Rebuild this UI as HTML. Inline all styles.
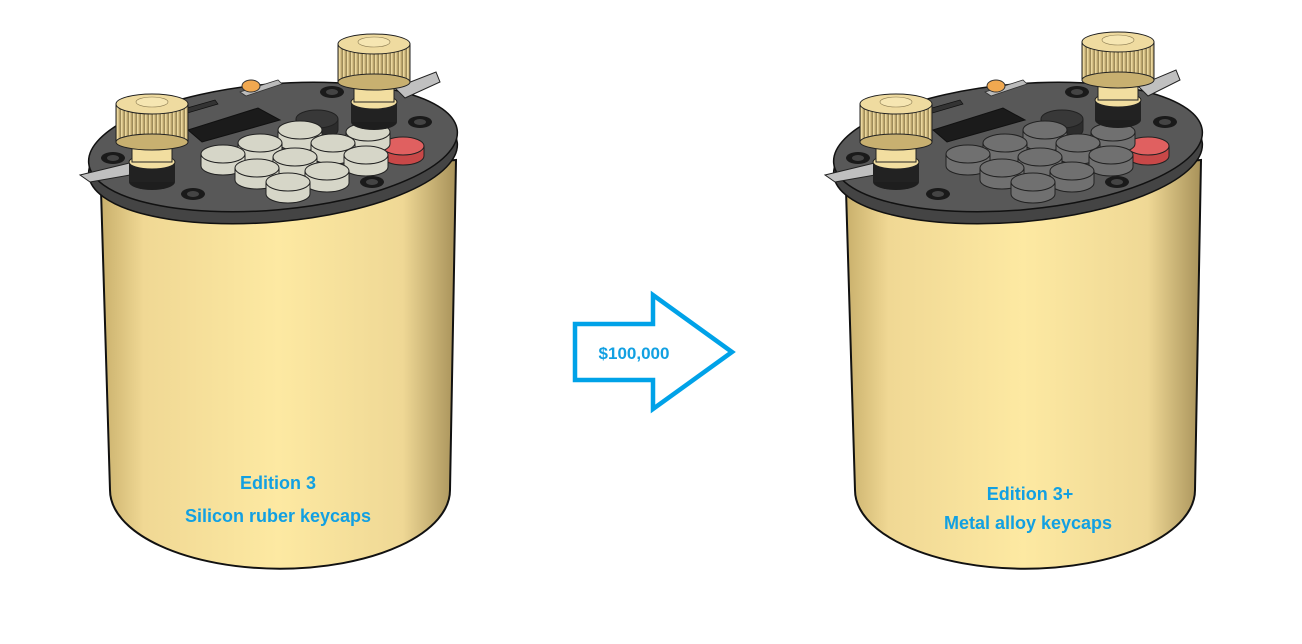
<!DOCTYPE html>
<html><head><meta charset="utf-8"><style>
html,body{margin:0;padding:0;background:#fff;}
svg{display:block;}
text{font-family:"Liberation Sans",sans-serif;font-weight:bold;fill:#12a0e2;}
</style></head><body>
<svg width="1302" height="644" viewBox="0 0 1302 644" xmlns="http://www.w3.org/2000/svg">
<defs>
<linearGradient id="body" x1="0" x2="1" y1="0" y2="0">
<stop offset="0" stop-color="#c9b06c"/><stop offset="0.12" stop-color="#f0d894"/>
<stop offset="0.5" stop-color="#fde9a2"/><stop offset="0.85" stop-color="#efd895"/>
<stop offset="1" stop-color="#a8925a"/></linearGradient>
<linearGradient id="knurl" x1="0" x2="1"><stop offset="0" stop-color="#bfa868"/><stop offset="0.4" stop-color="#f3e0a6"/><stop offset="1" stop-color="#a8915a"/></linearGradient>
<pattern id="lines" width="4" height="10" patternUnits="userSpaceOnUse"><rect width="4" height="10" fill="url(#knurl)"/><line x1="0" y1="0" x2="0" y2="10" stroke="#4a3e20" stroke-width="0.8"/></pattern>
<g id="knob">
<ellipse cx="0" cy="78" rx="23" ry="8" fill="#1e1e1e"/>
<rect x="-23" y="58" width="46" height="20" fill="#222"/>
<ellipse cx="0" cy="58" rx="23" ry="7" fill="#f2dea0" stroke="#222"/>
<rect x="-20" y="38" width="40" height="20" fill="#f2dea0" stroke="#222" stroke-width="1"/>
<rect x="-36" y="0" width="72" height="38" fill="url(#lines)" stroke="#222" stroke-width="1"/>
<ellipse cx="0" cy="38" rx="36" ry="8" fill="#c8b070" stroke="#222" stroke-width="1"/>
<ellipse cx="0" cy="0" rx="36" ry="10" fill="#efdba0" stroke="#222" stroke-width="1"/>
<ellipse cx="0" cy="-2" rx="16" ry="5" fill="#f6e6b2" stroke="#8a7a50" stroke-width="0.6"/>
</g>
<g id="screw"><ellipse rx="12" ry="6" fill="#1a1a1a"/><ellipse rx="6" ry="3" fill="#444"/></g>
<g id="dev">
<path d="M101 190 L110 490 A162 75 0 0 0 450 490 L456 160 Z" fill="url(#body)" stroke="#111" stroke-width="2"/>
<ellipse cx="273" cy="159" rx="185" ry="63" transform="rotate(-5 273 159)" fill="#444" stroke="#111" stroke-width="1.5"/>
<ellipse cx="273" cy="147" rx="185" ry="63" transform="rotate(-5 273 147)" fill="#585858" stroke="#111" stroke-width="1.5"/>
<path d="M188 130 L258 108 L280 120 L202 142 Z" fill="#1b1b1b" stroke="#111"/>
<path d="M180 110 L215 100 L218 104 L184 114 Z" fill="#333" stroke="#111" stroke-width="0.7"/>
<path d="M240 92 L278 80 L282 84 L246 96 Z" fill="#bbb" stroke="#333" stroke-width="0.8"/>
<ellipse cx="251" cy="86" rx="9" ry="6" fill="#f0a850" stroke="#333"/>
<use href="#screw" x="113" y="158"/><use href="#screw" x="193" y="194"/>
<use href="#screw" x="372" y="182"/><use href="#screw" x="420" y="122"/><use href="#screw" x="332" y="92"/>
<path d="M317 119 h-21 v11 a21 9 0 0 0 42 0 v-11 Z" fill="#2c2c2c" stroke="#222"/><ellipse cx="317" cy="119" rx="21" ry="9" fill="#383838" stroke="#222"/>
<path d="M403 146 h-21 v10 a21 9 0 0 0 42 0 v-10 Z" fill="#c84848" stroke="#222"/><ellipse cx="403" cy="146" rx="21" ry="9" fill="#e06060" stroke="#222"/>
</g>
<g id="keys" stroke="#222" stroke-width="1">
<path d="M300 130 h-22 v12 a22 9 0 0 0 44 0 v-12 Z"/><ellipse cx="300" cy="130" rx="22" ry="9" class="t"/>
<path d="M368 132 h-22 v12 a22 9 0 0 0 44 0 v-12 Z"/><ellipse cx="368" cy="132" rx="22" ry="9"/>
<path d="M260 143 h-22 v12 a22 9 0 0 0 44 0 v-12 Z"/><ellipse cx="260" cy="143" rx="22" ry="9"/>
<path d="M333 143 h-22 v12 a22 9 0 0 0 44 0 v-12 Z"/><ellipse cx="333" cy="143" rx="22" ry="9"/>
<path d="M223 154 h-22 v12 a22 9 0 0 0 44 0 v-12 Z"/><ellipse cx="223" cy="154" rx="22" ry="9"/>
<path d="M295 157 h-22 v12 a22 9 0 0 0 44 0 v-12 Z"/><ellipse cx="295" cy="157" rx="22" ry="9"/>
<path d="M366 155 h-22 v12 a22 9 0 0 0 44 0 v-12 Z"/><ellipse cx="366" cy="155" rx="22" ry="9"/>
<path d="M257 168 h-22 v12 a22 9 0 0 0 44 0 v-12 Z"/><ellipse cx="257" cy="168" rx="22" ry="9"/>
<path d="M327 171 h-22 v12 a22 9 0 0 0 44 0 v-12 Z"/><ellipse cx="327" cy="171" rx="22" ry="9"/>
<path d="M288 182 h-22 v12 a22 9 0 0 0 44 0 v-12 Z"/><ellipse cx="288" cy="182" rx="22" ry="9"/>
</g>
</defs>

<path d="M575 324 H653 V295 L732 352 L653 409 V380 H575 Z" fill="none" stroke="#00a2e8" stroke-width="4.5"/>
<text x="634" y="359" font-size="17" text-anchor="middle">$100,000</text>

<use href="#dev"/>
<use href="#dev" x="745"/>
<use href="#keys" fill="#d6d6c8"/>
<use href="#keys" x="745" fill="#707070"/>

<path d="M80 175 L150 158 L170 168 L90 182 Z" fill="#c0c0c0" stroke="#222"/>
<use href="#knob" x="152" y="104"/>
<path d="M395 88 L436 72 L440 82 L405 98 Z" fill="#c0c0c0" stroke="#222"/>
<use href="#knob" x="374" y="44"/>
<path d="M825 175 L895 158 L915 168 L835 182 Z" fill="#c0c0c0" stroke="#222"/>
<use href="#knob" x="896" y="104"/>
<path d="M1138 86 L1176 70 L1180 80 L1148 96 Z" fill="#c0c0c0" stroke="#222"/>
<use href="#knob" x="1118" y="42"/>

<text x="278" y="489" font-size="18" text-anchor="middle">Edition 3</text>
<text x="278" y="522" font-size="18" text-anchor="middle">Silicon ruber keycaps</text>
<text x="1030" y="500" font-size="18" text-anchor="middle">Edition 3+</text>
<text x="1028" y="529" font-size="18" text-anchor="middle">Metal alloy keycaps</text>
</svg>
</body></html>
